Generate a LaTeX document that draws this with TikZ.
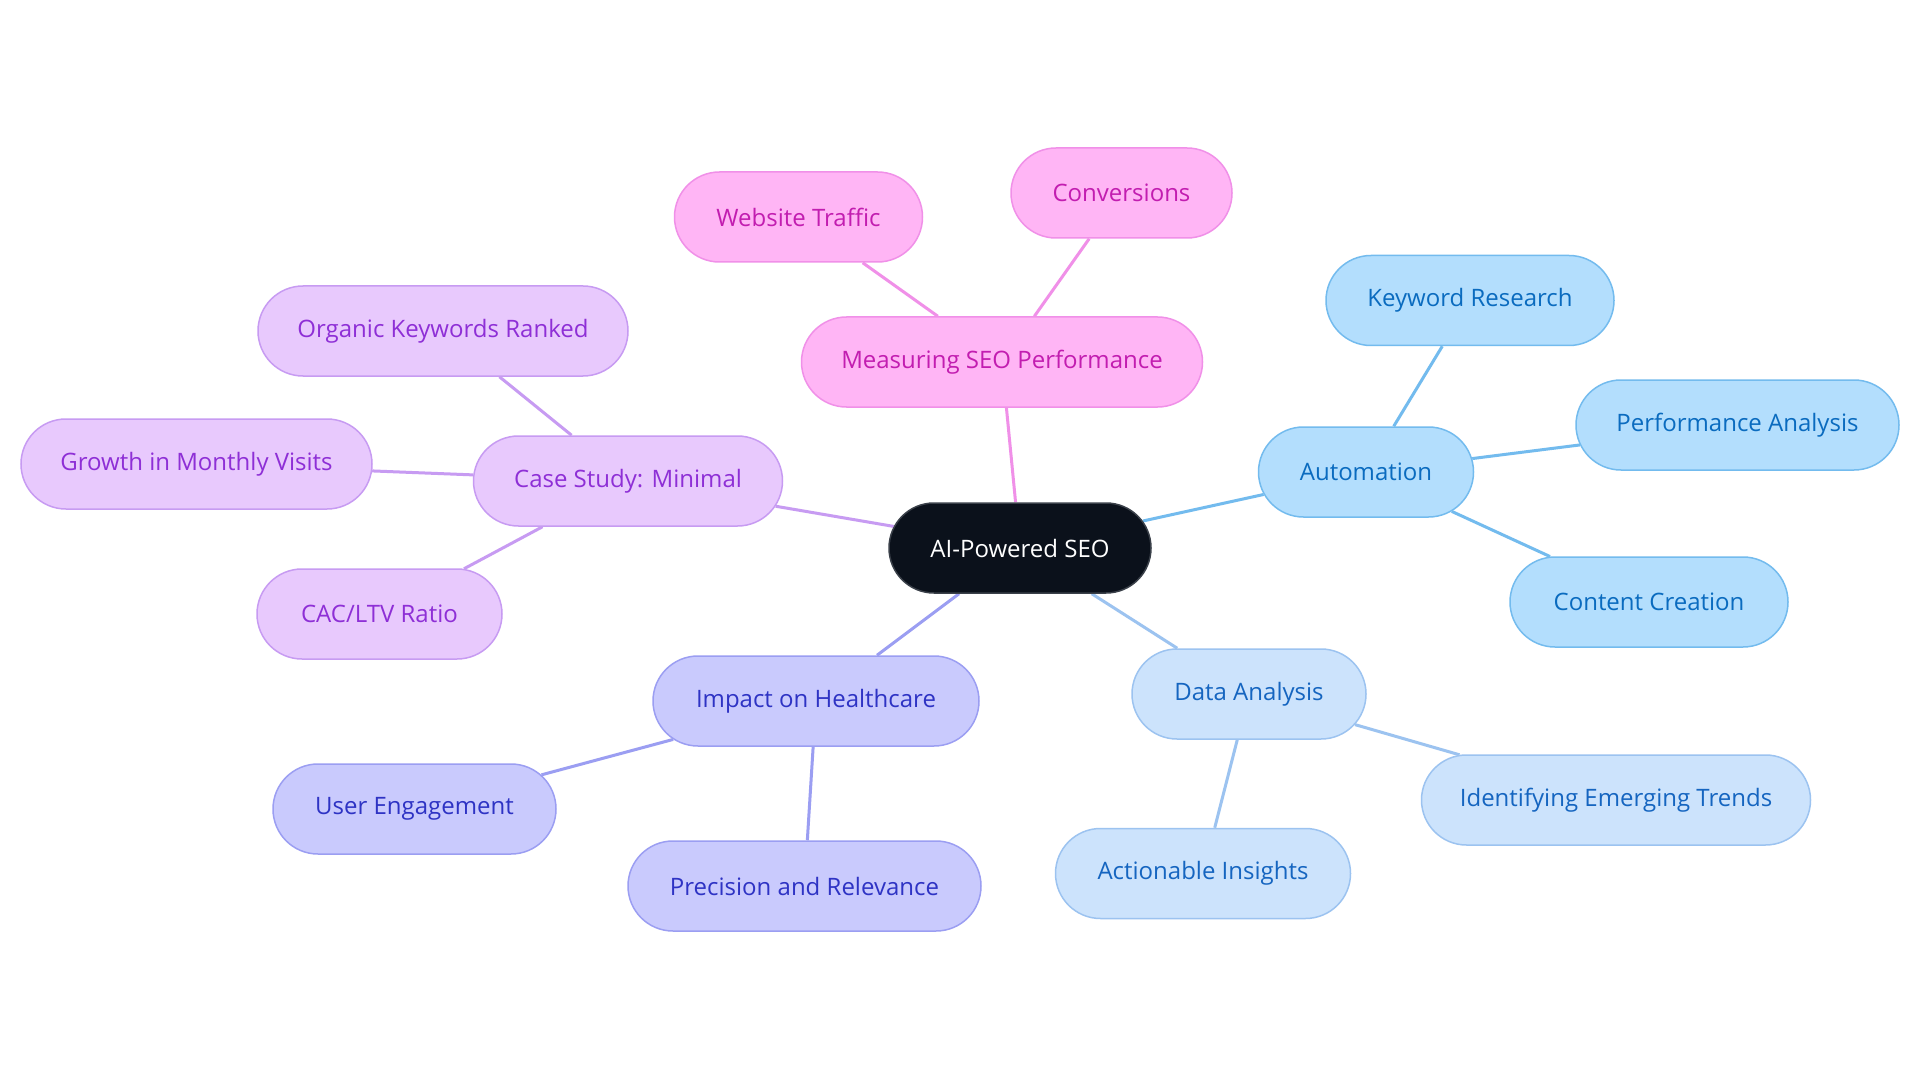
\documentclass[tikz,border=0pt]{standalone}
\usepackage{fontspec}
\setmainfont{Open Sans}
\usetikzlibrary{shapes.misc,backgrounds}
\definecolor{pkfill}{HTML}{FFB5F5}
\definecolor{pkline}{HTML}{F090E8}
\definecolor{pktext}{HTML}{C21DB0}
\definecolor{pufill}{HTML}{E8C9FD}
\definecolor{puline}{HTML}{C79BF2}
\definecolor{putext}{HTML}{8E2FD6}
\definecolor{infill}{HTML}{C9CAFD}
\definecolor{inline}{HTML}{9B9EF2}
\definecolor{intext}{HTML}{2E33C4}
\definecolor{lbfill}{HTML}{CCE3FC}
\definecolor{lbline}{HTML}{9CC3F0}
\definecolor{lbtext}{HTML}{1565C0}
\definecolor{skfill}{HTML}{B3DEFD}
\definecolor{skline}{HTML}{73BBEE}
\definecolor{sktext}{HTML}{0A6BBF}
\definecolor{cfill}{HTML}{0B111B}
\definecolor{cline}{HTML}{3A4049}
\tikzset{
  pill/.style={rounded rectangle, draw, line width=1.5pt, inner sep=0pt,
    minimum height=90pt, font=\fontsize{24}{29}\selectfont},
  central/.style={pill, fill=cfill, draw=cline, text=white},
  pink/.style={pill, fill=pkfill, draw=pkline, text=pktext},
  purp/.style={pill, fill=pufill, draw=puline, text=putext},
  indi/.style={pill, fill=infill, draw=inline, text=intext},
  lblue/.style={pill, fill=lbfill, draw=lbline, text=lbtext},
  sky/.style={pill, fill=skfill, draw=skline, text=sktext},
  link/.style={line width=3pt}
}
\begin{document}
\begin{tikzpicture}[x=1pt,y=-1pt]
\useasboundingbox (0,0) rectangle (1920,1083);
\node[central, minimum width=262pt] (c) at (1020,548) {AI-Powered SEO};
% pink
\node[pink, minimum width=401pt] (m) at (1002,362) {Measuring SEO Performance};
\node[pink, minimum width=248pt] (wt) at (798.5,217) {Website Traffic};
\node[pink, minimum width=221pt] (cv) at (1121.5,193) {Conversions};
% purple
\node[purp, minimum width=309pt] (cs) at (628,481) {Case Study: Minimal};
\node[purp, minimum width=370pt] (ok) at (443,331) {Organic Keywords Ranked};
\node[purp, minimum width=351pt] (gm) at (196.5,464) {Growth in Monthly Visits};
\node[purp, minimum width=245pt] (cac) at (379.5,614) {CAC/LTV Ratio};
% indigo
\node[indi, minimum width=326pt] (ih) at (816,701) {Impact on Healthcare};
\node[indi, minimum width=283pt] (ue) at (414.5,809) {User Engagement};
\node[indi, minimum width=353pt] (pr) at (804.5,886) {Precision and Relevance};
% light blue
\node[lblue, minimum width=234pt] (da) at (1249,694) {Data Analysis};
\node[lblue, minimum width=295pt] (ai) at (1203,873.5) {Actionable Insights};
\node[lblue, minimum width=389pt] (ie) at (1616,800) {Identifying Emerging Trends};
% sky
\node[sky, minimum width=215pt] (au) at (1366,472) {Automation};
\node[sky, minimum width=288pt] (kr) at (1470,300.5) {Keyword Research};
\node[sky, minimum width=323pt] (pa) at (1737.5,425) {Performance Analysis};
\node[sky, minimum width=278pt] (cc) at (1649,602) {Content Creation};
\begin{scope}[on background layer]
\fill[white] (0,0) rectangle (1920,1083);
\draw[link, pkline] (c) -- (m);
\draw[link, pkline] (m) -- (wt);
\draw[link, pkline] (m) -- (cv);
\draw[link, puline] (c) -- (cs);
\draw[link, puline] (cs) -- (ok);
\draw[link, puline] (cs) -- (gm);
\draw[link, puline] (cs) -- (cac);
\draw[link, inline] (c) -- (ih);
\draw[link, inline] (ih) -- (ue);
\draw[link, inline] (ih) -- (pr);
\draw[link, lbline] (c) -- (da);
\draw[link, lbline] (da) -- (ai);
\draw[link, lbline] (da) -- (ie);
\draw[link, skline] (c) -- (au);
\draw[link, skline] (au) -- (kr);
\draw[link, skline] (au) -- (pa);
\draw[link, skline] (au) -- (cc);
\end{scope}
\end{tikzpicture}
\end{document}
